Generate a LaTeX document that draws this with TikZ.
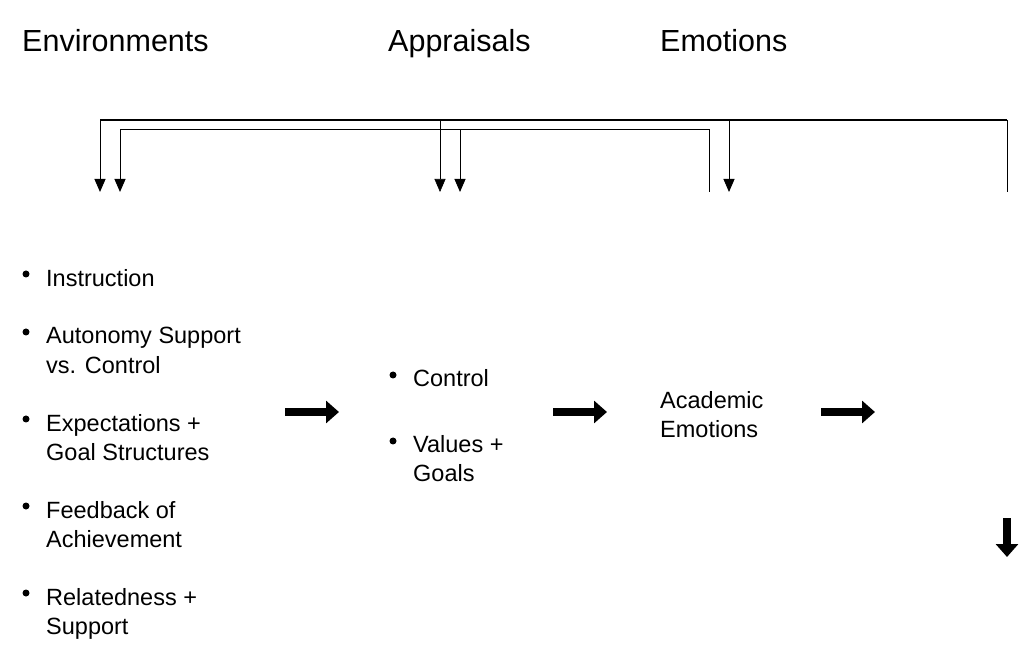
\documentclass[tikz,border=0pt]{standalone}
\usepackage{fontspec}
\setmainfont{Liberation Sans}
\usetikzlibrary{arrows.meta}
\begin{document}
\begin{tikzpicture}[x=1pt,y=-1pt,
  title/.style={anchor=base west,font=\fontsize{30.5}{36}\selectfont,inner sep=0},
  item/.style={anchor=north west,font=\fontsize{23.5}{29.5}\selectfont,inner sep=0,align=left},
  dot/.style={circle,fill=black,inner sep=0,minimum size=7pt},
  fb/.style={line width=1pt,-{Triangle[length=13pt,width=11pt]}},
  ln/.style={line width=1pt},
  big/.style={line width=8pt,-{Triangle[length=13pt,width=22pt]}}]
\useasboundingbox (0,0) rectangle (1029,652);
\node[title] (env) at (22,52) {Environments};
\node[title] (app) at (388,52) {Appraisals};
\node[title] (emo) at (660,52) {Emotions};
% feedback lines
\coordinate (t1) at (100,120); \coordinate (t2) at (1007,120);
\coordinate (s1) at (120,130); \coordinate (s2) at (709,130);
\coordinate (a1) at (100,192); \coordinate (a2) at (120,192);
\coordinate (a3) at (440,192); \coordinate (a4) at (460,192);
\coordinate (a5) at (729,192); \coordinate (e1) at (709,192); \coordinate (e2) at (1007,192);
\coordinate (u3) at (440,120); \coordinate (u4) at (460,130); \coordinate (u5) at (729,120);
\draw[line width=1.8pt] (t1) -- (t2);
\draw[ln] (s1) -- (s2) -- (e1);
\draw[ln] (t2) -- (e2);
\draw[fb] (t1) -- (a1);
\draw[fb] (s1) -- (a2);
\draw[fb,line width=0.6pt] (u3) -- (a3);
\draw[fb] (u4) -- (a4);
\draw[fb] (u5) -- (a5);
% environment items
\foreach \n/\y/\t in {i1/269/Instruction, i2/327/{Autonomy Support\\vs. Control}, i3/414/{Expectations +\\Goal Structures}, i4/501/{Feedback of\\Achievement}, i5/588/{Relatedness +\\Support}}{
  \node[dot] (d\n) at (26,\y+5) {};
  \node[item] (\n) at (46,\y) {\t};
}
\node[dot] (dc1) at (393,375) {};
\node[item] (c1) at (413,369) {Control};
\node[dot] (dc2) at (393,441) {};
\node[item] (c2) at (413,435) {Values +\\Goals};
\node[item] (ae) at (660,391) {Academic\\Emotions};
% big arrows
\coordinate (b1s) at (285,412); \coordinate (b1e) at (339,412);
\coordinate (b2s) at (553,412); \coordinate (b2e) at (607,412);
\coordinate (b3s) at (821,412); \coordinate (b3e) at (875,412);
\coordinate (b4s) at (1007,518); \coordinate (b4e) at (1007,557);
\draw[big] (b1s) -- (b1e);
\draw[big] (b2s) -- (b2e);
\draw[big] (b3s) -- (b3e);
\draw[big] (b4s) -- (b4e);
\end{tikzpicture}
\end{document}
